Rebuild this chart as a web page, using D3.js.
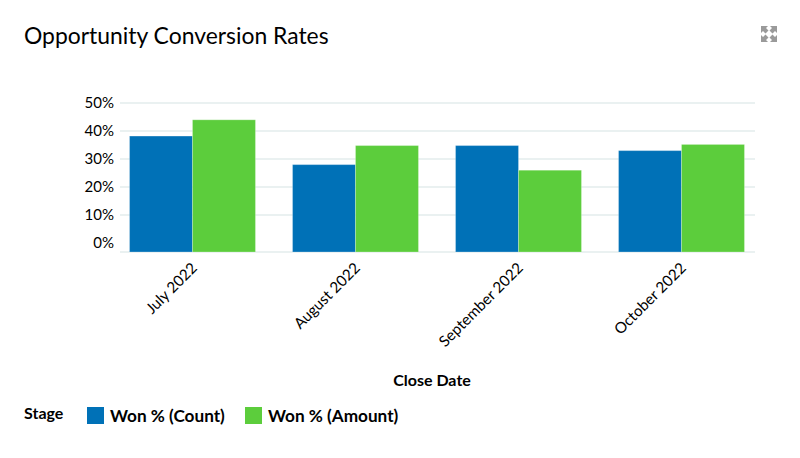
<!DOCTYPE html>
<html>
<head>
<meta charset="utf-8">
<script src="https://cdn.jsdelivr.net/npm/d3@7/dist/d3.min.js"></script>
<style>
html, body { margin: 0; padding: 0; background: #fff; }
svg { display: block; font-family: Lato, sans-serif; }
</style>
</head>
<body>
<svg id="chart" width="800" height="458"></svg>
<script>
const months = ["July 2022", "August 2022", "September 2022", "October 2022"];
const stages = ["Won % (Count)", "Won % (Amount)"];
const wonCount = [38.2, 28, 34.8, 33];
const wonAmount = [44, 34.8, 26, 35.2];
const yTicks = [0, 10, 20, 30, 40, 50];
const colors = ["#0071b7", "#5ccd3c"];

let svg = d3.select("#chart");

let x0 = d3.scaleBand().domain(months).range([111, 763]).paddingInner(0.2275).paddingOuter(0.1137);
let x1 = d3.scaleBand().domain(stages).range([0, x0.bandwidth()]);
// the plot floor sits a little under zero, bars run down to it
let y = d3.scaleLinear().domain([-3.2, 50]).range([252, 103]);

// grid lines, none at zero
svg.append("g").selectAll("line")
    .data(yTicks.filter(d => d > 0).concat([-3.2]))
    .enter().append("line")
    .attr("x1", 120).attr("x2", 755)
    .attr("y1", d => y(d)).attr("y2", d => y(d))
    .attr("stroke", "#e3ecec").attr("stroke-width", 1.5);

// y labels
svg.append("g").selectAll("text")
    .data(yTicks)
    .enter().append("text")
    .attr("x", 114)
    .attr("y", d => y(d) + 5)
    .attr("text-anchor", "end")
    .attr("font-size", 15)
    .attr("fill", "#000")
    .text(d => d + "%");

// bars
let groups = svg.append("g").selectAll("g")
    .data(months)
    .enter().append("g")
    .attr("transform", d => "translate(" + x0(d) + ",0)");

[wonCount, wonAmount].forEach((series, s) => {
    groups.append("rect")
        .attr("x", x1(stages[s]))
        .attr("width", x1.bandwidth())
        .attr("y", (d, i) => y(series[i]))
        .attr("height", (d, i) => y(-3.2) - y(series[i]))
        .attr("fill", colors[s])
        .attr("stroke", "#fff").attr("stroke-opacity", 0.25).attr("stroke-width", 1);
});

// x labels
svg.append("g").selectAll("text")
    .data(months)
    .enter().append("text")
    .attr("transform", d => "translate(" + (x0(d) + x0.bandwidth() / 2 + 5.5) + ",269) rotate(-45)")
    .attr("text-anchor", "end")
    .attr("font-size", 15.2)
    .attr("fill", "#000")
    .text(d => d);

svg.append("text")
    .attr("x", 24).attr("y", 44)
    .attr("font-size", 22.9)
    .attr("fill", "#000")
    .text("Opportunity Conversion Rates");

svg.append("text")
    .attr("x", 432).attr("y", 386)
    .attr("text-anchor", "middle")
    .attr("font-size", 16).attr("font-weight", 700)
    .text("Close Date");

svg.append("text")
    .attr("x", 24).attr("y", 419)
    .attr("font-size", 16).attr("font-weight", 700)
    .text("Stage");

// legend
let legendX = [87, 245];
stages.forEach((s, i) => {
    svg.append("rect")
        .attr("x", legendX[i]).attr("y", 407)
        .attr("width", 17).attr("height", 17)
        .attr("fill", colors[i]);
    svg.append("text")
        .attr("x", legendX[i] + 23).attr("y", 422)
        .attr("font-size", 17.2).attr("font-weight", 700)
        .text(s);
});

// expand icon, four grey corner arrows
let icon = svg.append("g").attr("fill", "#9a9a9a");
[[761, 26, 1, 1], [777, 26, -1, 1], [761, 42, 1, -1], [777, 42, -1, -1]].forEach(c => {
    icon.append("path")
        .attr("transform", "translate(" + c[0] + "," + c[1] + ") scale(" + c[2] + "," + c[3] + ")")
        .attr("d", "M0,0H7L5,2L7.5,4.5L4.5,7.5L2,5L0,7Z");
});
</script>
</body>
</html>
